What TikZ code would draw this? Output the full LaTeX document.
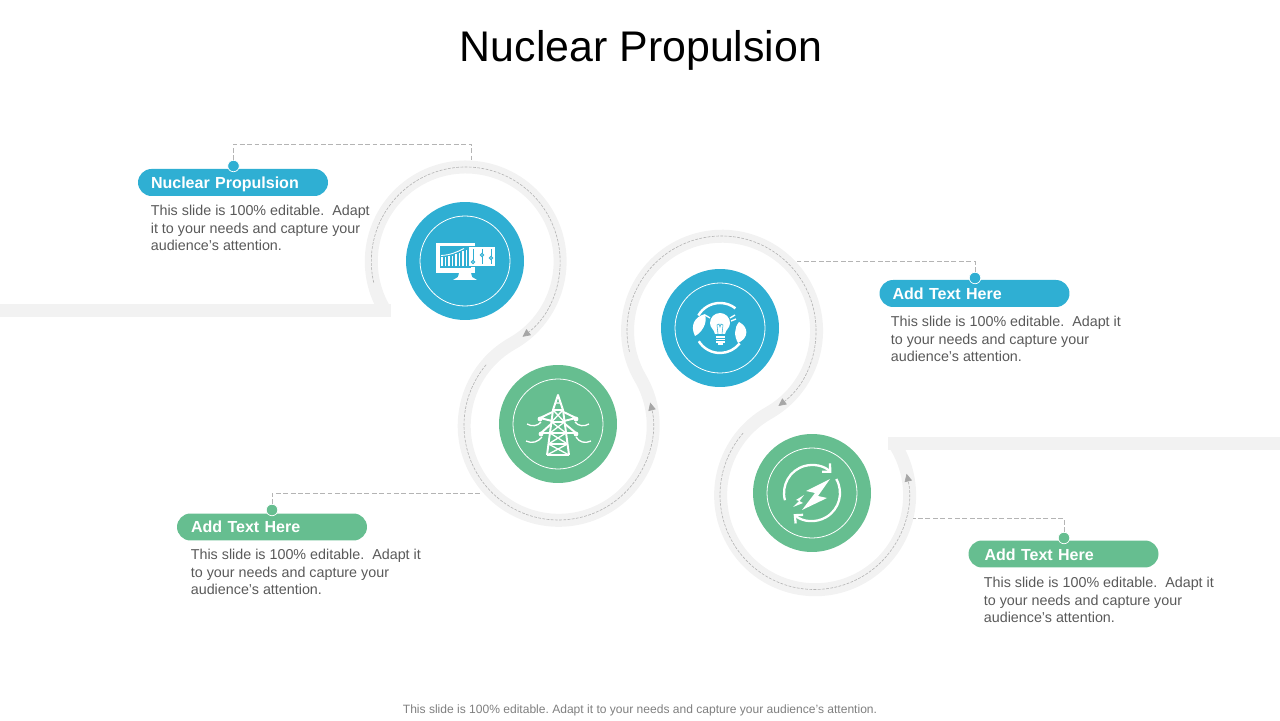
\documentclass[tikz,border=0pt]{standalone}
\usepackage{fontspec}
\setmainfont{Liberation Sans}
\usepackage{xcolor}
\usepackage{tikz}
\usetikzlibrary{arrows.meta}
\definecolor{bandgray}{HTML}{F2F2F2}
\definecolor{dashgray}{HTML}{B4B4B4}
\definecolor{tipgray}{HTML}{A6A6A6}
\definecolor{teal}{HTML}{2FAFD3}
\definecolor{leaf}{HTML}{66BE90}
\definecolor{bodygray}{HTML}{595959}
\definecolor{footgray}{HTML}{7F7F7F}

\begin{document}
\begin{tikzpicture}[x=0.02cm,y=0.02cm]
\frenchspacing
% Define styles
\tikzstyle{band} = [bandgray, line width=0.26cm]
\tikzstyle{track} = [dashgray, line width=0.35pt, dash pattern=on 1.6pt off 0.8pt, -{Triangle[length=4.4pt,width=4.2pt,color=tipgray]}]
\tikzstyle{leader} = [dashgray, line width=0.4pt, dash pattern=on 2.8pt off 1.4pt]
\tikzstyle{disc} = [circle, inner sep=0pt, minimum size=2.36cm]
\tikzstyle{ring} = [white, line width=0.45pt]
\tikzstyle{pill} = [rectangle, rounded corners=0.27cm, minimum width=3.8cm, minimum height=0.54cm, inner ysep=0pt, inner xsep=0.26cm, text width=3.28cm, text height=0.32cm, text depth=0.08cm, align=left, text=white, font=\fontsize{9.12pt}{10pt}\selectfont\bfseries]
\tikzstyle{dot} = [circle, inner sep=0pt, minimum size=0.23cm, draw=white, line width=0.4pt]
\tikzstyle{blurb} = [anchor=north west, inner sep=0pt, align=left, text=bodygray, font=\fontsize{8.15pt}{9.96pt}\selectfont]
\tikzstyle{icon} = [white, line width=1.1pt]
\tikzstyle{thin icon} = [white, line width=0.75pt]
\useasboundingbox (0,0) rectangle (1280,720);
% Define nodes
\node[font=\fontsize{24.4pt}{28pt}\selectfont] (title) at (641,670) {Nuclear Propulsion};
\node[text=footgray, font=\fontsize{6.86pt}{8pt}\selectfont] (footer) at (640,10) {This slide is 100\% editable. Adapt it to your needs and capture your audience's attention.};
\coordinate (arc_a) at (465.7,458.6);
\coordinate (arc_b) at (558.5,294.5);
\coordinate (arc_c) at (721.5,389.5);
\coordinate (arc_d) at (814.5,225);
% Ribbon behind the discs
\draw[band] (0,409.5) -- (390.5,409.5);
\draw[band] ([shift={(209:94.4)}]arc_a) arc[start angle=209, end angle=-60.5, radius=94.4]
  arc[start angle=119.5, end angle=390.2, radius=94.5]
  arc[start angle=210.2, end angle=-60.5, radius=94.5]
  arc[start angle=119.5, end angle=392, radius=94.5];
\draw[band] (888,276.5) -- (1280,276.5);
% Dashed tracks on the ribbon
\draw[track] ([shift={(193:94.4)}]arc_a) arc[start angle=193, end angle=-53, radius=94.4];
\draw[track] ([shift={(140:94.5)}]arc_b) arc[start angle=140, end angle=374, radius=94.5];
\draw[track] ([shift={(193:94.5)}]arc_c) arc[start angle=193, end angle=-53, radius=94.5];
\draw[track] ([shift={(139:94.5)}]arc_d) arc[start angle=139, end angle=373, radius=94.5];
% Discs
\node[disc, fill=teal] (disc_a) at (465,459) {};
\node[disc, fill=leaf] (disc_b) at (558,296) {};
\node[disc, fill=teal] (disc_c) at (720,392) {};
\node[disc, fill=leaf] (disc_d) at (812,227) {};
\foreach \name in {disc_a,disc_b,disc_c,disc_d}
  \draw[ring] (\name) circle (45);
% Pills and their dots
\node[pill, fill=teal] (pill_a) at (233,537.5) {Nuclear Propulsion};
\node[pill, fill=teal] (pill_b) at (974.5,426.5) {Add Text Here};
\node[pill, fill=leaf] (pill_c) at (272,193) {\hspace{0.02cm}Add Text Here};
\node[pill, fill=leaf] (pill_d) at (1063.5,166) {\hspace{0.06cm}Add Text Here};
\node[dot, fill=teal] (dot_a) at (233.5,554) {};
\node[dot, fill=teal] (dot_b) at (975,442) {};
\node[dot, fill=leaf] (dot_c) at (272,210) {};
\node[dot, fill=leaf] (dot_d) at (1064,182) {};
\node[blurb] (text_a) at (150.5,515) {This slide is 100\% editable.~ Adapt\\it to your needs and capture your\\audience's attention.};
\node[blurb] (text_b) at (890.5,404) {This slide is 100\% editable.~ Adapt it\\to your needs and capture your\\audience's attention.};
\node[blurb] (text_c) at (190.5,171) {This slide is 100\% editable.~ Adapt it\\to your needs and capture your\\audience's attention.};
\node[blurb] (text_d) at (983.5,143) {This slide is 100\% editable.~ Adapt it\\to your needs and capture your\\audience's attention.};
% Connect the nodes
\coordinate (turn_a) at (471.5,576);
\coordinate (stop_a) at (471.5,560);
\coordinate (stop_b) at (795,459);
\coordinate (stop_c) at (480,227);
\coordinate (stop_d) at (913,202);
\draw[leader] (dot_a) -- (dot_a |- turn_a) -- (turn_a) -- (stop_a);
\draw[leader] (dot_b) |- (stop_b);
\draw[leader] (dot_c) |- (stop_c);
\draw[leader] (dot_d) |- (stop_d);
% Monitor icon
\begin{scope}[shift={(disc_a)}]
\fill[white] (-29,18) rectangle (10,-12);
\fill[teal] (-25.5,14.5) rectangle (6,-7.5);
\fill[white] (-6,-12) -- (6,-12) -- (7,-16) -- (12,-19) -- (-12,-19) -- (-7,-16) -- cycle;
\foreach \x/\h in {-23/3.5,-19.5/4,-16/4.5,-12.5/5,-9/6.5,-5.5/8,-2/10,1.5/11}
  \draw[white, line width=1.1pt] (\x,-5.5) -- (\x,\h);
\draw[white, line width=0.5pt] (-24,5.5) .. controls (-14,6) and (-8,9) .. (-1,12.5);
\fill[white, draw=teal, line width=0.5pt] (3.5,14.5) rectangle (30.5,-5.5);
\foreach \x/\y in {8/-1,17/6,26/3} {
  \draw[teal, line width=0.5pt] (\x,12) -- (\x,-3.5);
  \draw[teal, line width=0.6pt, fill=white] (\x,\y) circle (1.6);
}
\end{scope}
% Tower icon
\begin{scope}[shift={(disc_b)}]
\draw[icon, line join=round] (-11,-31) -- (-5,14) -- (0,29) -- (5,14) -- (11,-31);
\draw[thin icon] (-5,14) -- (5,14) (-6.5,2) -- (6.5,2) (-8,-9) -- (8,-9) (-9.5,-20) -- (9.5,-20) (-11,-31) -- (11,-31);
\draw[thin icon] (-5,14) -- (6.5,2) (5,14) -- (-6.5,2) (-6.5,2) -- (8,-9) (6.5,2) -- (-8,-9) (-8,-9) -- (9.5,-20) (8,-9) -- (-9.5,-20) (-9.5,-20) -- (11,-31) (9.5,-20) -- (-11,-31) (-3,21) -- (3,21);
\draw[icon] (-18,6) -- (-5.5,12) (-18,6) -- (-6,3) (18,6) -- (5.5,12) (18,6) -- (6,3);
\draw[icon] (-17,-9) -- (-7,0) (-17,-9) -- (-8,-9) (18,-9) -- (7,0) (18,-9) -- (8,-9);
\draw[thin icon] (-31,0) .. controls (-26,-3) and (-20,-2) .. (-17,2);
\draw[thin icon] (31,0) .. controls (26,-3) and (20,-2) .. (17,2);
\draw[thin icon] (-32,-17) .. controls (-26,-20) and (-20,-18) .. (-16,-13);
\draw[thin icon] (33,-17) .. controls (27,-20) and (21,-18) .. (18,-13);
\fill[white] (-18,5) circle (2.4) (18,5) circle (2.4) (-17,-10) circle (2.4) (18,-10) circle (2.4);
\end{scope}
% Bulb icon
\begin{scope}[shift={(disc_c)}]
\draw[icon, line width=1.4pt] (150:25) arc[start angle=150, end angle=52, radius=25];
\draw[icon, line width=1.4pt] (212:25) arc[start angle=212, end angle=322, radius=25];
\fill[white] (-15,14) .. controls (-26,11) and (-30,2) .. (-25,-8) .. controls (-19,-5) and (-12,4) .. cycle;
\fill[white] (19,6) .. controls (29,1) and (29,-10) .. (18,-15) .. controls (14,-8) and (14,0) .. cycle;
\fill[white] (-5,-6) .. controls (-6,-1) and (-10,0) .. (-10,5) arc[start angle=180, end angle=0, radius=10] .. controls (10,0) and (6,-1) .. (5,-6) -- cycle;
\fill[white] (-4.5,-8) rectangle (4.5,-15);
\fill[white] (-2.5,-15) rectangle (2.5,-17);
\draw[teal, line width=0.3pt] (-2,-6) -- (-3,3) -- (-1,4) -- (0,1) -- (1,4) -- (3,3) -- (2,-6);
\draw[teal, line width=0.3pt] (-4.5,-10) -- (4.5,-10) (-4.5,-12.5) -- (4.5,-12.5);
\draw[thin icon] (-15,13) -- (-10,10);
\draw[thin icon] (10,10) -- (15,13) (11,7) -- (16,9);
\end{scope}
% Bolt icon
\begin{scope}[shift={(disc_d)}]
\draw[icon, line width=1.3pt, -{Straight Barb[length=3.4pt,width=6.5pt]}] (195:28) arc[start angle=195, end angle=46, radius=28];
\draw[icon, line width=1.3pt, -{Straight Barb[length=3.4pt,width=6.5pt]}] (30:28) arc[start angle=30, end angle=-131, radius=28];
\fill[white] (18,14) -- (-6,2) -- (3,0) -- (-10,-17) -- (15,-5) -- (6,-3) -- cycle;
\fill[white] (-8,-2) -- (-16,-7) -- (-13,-8) -- (-19,-14) -- (-9,-10) -- (-12.5,-8) -- cycle;
\end{scope}
\end{tikzpicture}
\end{document}
